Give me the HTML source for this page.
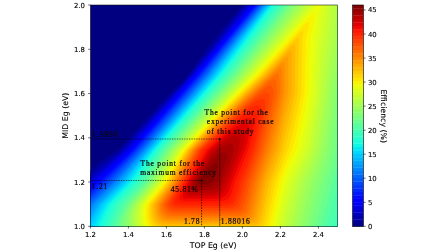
<!DOCTYPE html>
<html><head><meta charset="utf-8"><title>Efficiency map</title>
<style>html,body{margin:0;padding:0;background:#fff}body{width:448px;height:252px;overflow:hidden}svg{display:block}</style></head>
<body>
<svg width="448" height="252" viewBox="0 0 448 252">
<defs><clipPath id="hc"><rect x="90.4" y="5.0" width="247.0" height="221.3"/></clipPath>
</defs>
<rect x="90.4" y="5.0" width="247.0" height="221.3" fill="#000080"/>
<g clip-path="url(#hc)"><path fill="#00009b" d="M338.4,228.2 89.4,228.2 88.5,227.3 88.5,226.3 88.7,186.2 89,176.2 89.4,170.1 90.4,170.1 98.4,163.4 106.4,157.4 110.4,154.8 116.4,151.4 118,150.2 147.9,117.2 161.4,102.5 169.4,94.2 178.4,85.5 185.4,78.3 191.5,71.1 192.7,69.1 194.2,67.1 198.6,60.1 206.7,49.1 222,30 243,5 243,4 248.4,3.4 261.4,3.2 338.4,3.1 339.3,4 339.3,227.3 338.4,228.2Z"/>
<path fill="#0000ad" d="M338.4,228.2 89.4,228.2 88.6,227.3 88.6,226.3 88.7,190.3 89,180.2 89.4,173.9 90.4,173.9 100.4,165.8 111.4,158 116.4,154 120.6,150.2 140.4,128.5 160.4,107.3 189.5,75.1 209.6,50.1 219.2,37 227.7,26 239.7,11 244.8,5 244.8,4 250.4,3.5 263.4,3.2 338.4,3.1 339.3,4 339.3,227.3 338.4,228.2Z"/>
<path fill="#0000bf" d="M338.4,228.1 89.4,228.1 88.6,227.3 88.6,226.3 88.8,192.3 89.4,177 90.4,177 96.4,172.2 104.4,166.1 111.4,160.2 122.5,150.2 152.4,117.8 190.7,75.1 216.6,43.1 228.4,28 241.6,11 246.6,5 246.6,4 255.4,3.4 266.4,3.2 338.4,3.1 339.3,4 339.2,227.3 338.4,228.1Z"/>
<path fill="#0000d1" d="M338.4,228.1 89.4,228.1 88.6,227.3 88.6,226.3 88.8,195.3 89.4,179.8 90.4,179.8 97.4,174.2 107.4,165.6 124.5,150.2 144.4,128.3 191.9,75.1 218,43.1 245,9 248.4,5 248.4,4 257.4,3.5 268.4,3.2 338.4,3.1 339.3,4 339.2,227.3 338.4,228.1Z"/>
<path fill="#0000e3" d="M338.4,228.1 160.4,228.2 89.4,228 88.7,227.3 88.9,198.3 89.4,182.3 90.4,182.3 112.4,163 126.4,150.2 132.4,143.5 159.4,113.3 193.1,75.1 219.5,43.1 246.8,9 250.2,5 250.2,4 259.4,3.5 271.4,3.3 338.4,3.2 339.2,4 339.2,227.3 338.4,228.1Z"/>
<path fill="#0000f6" d="M338.4,228 160.4,228.1 89.4,228 88.7,227.3 88.9,200.3 89.4,184.4 90.4,184.4 111.4,165.7 128.4,150.1 158.4,116.2 194.4,75.1 219.3,45.1 248.6,9 252.1,5 252.1,4 260.4,3.5 272.4,3.3 338.4,3.2 339.2,4 339.1,227.3 338.4,228Z"/>
<path fill="#0000ff" d="M338.4,228 160.4,228.1 89.4,227.9 88.8,227.3 88.9,203.3 89.4,186.6 90.4,186.6 115.4,164 130,150.2 195.6,75.1 253.7,5 253.7,4 260.4,3.6 272.4,3.3 338.4,3.2 339.2,4 339.1,227.3 338.4,228Z"/>
<path fill="#0008ff" d="M338.4,228 160.4,228.1 89.4,227.9 88.8,227.3 89,204.3 89.4,188.7 90.4,188.7 109.4,171.4 120.4,161.2 131.6,150.2 197,75.1 227.4,38 254.9,5 254.9,4 261.4,3.6 272.4,3.4 338.4,3.2 339.1,4 339.1,227.3 338.4,228Z"/>
<path fill="#0018ff" d="M338.4,227.9 160.4,228.1 89.4,227.8 88.9,227.3 88.9,226.3 89,204.3 89.4,190.8 90.4,190.8 110.4,172.4 121.4,161.9 133.1,150.2 198.3,75.1 229.4,37 256,5 256,4 262.4,3.6 273.4,3.4 338.4,3.3 339.1,4 339,227.3 338.4,227.9Z"/>
<path fill="#0028ff" d="M338.4,227.9 160.4,228.1 89.4,227.8 88.9,227.3 88.9,226.3 89.1,204.3 89.4,192.9 90.4,192.9 110.4,174.3 121.4,163.6 134.6,150.2 199.7,75.1 230.5,37 257,5 257,4 263.4,3.7 273.4,3.4 338.4,3.3 339.1,4 339,227.3 338.4,227.9Z"/>
<path fill="#0038ff" d="M338.4,227.9 160.4,228 89.4,227.7 89,227.3 89,226.3 89.1,204.3 89.4,195.1 90.4,195.1 109.4,177.3 121.4,165.4 136,150.2 201.1,75.1 231.7,37 258.1,5 258.1,4 273.4,3.5 338.4,3.3 339.1,4 339,227.3 338.4,227.9Z"/>
<path fill="#0048ff" d="M338.4,227.8 160.4,228 89.4,227.7 89,227.3 89,226.3 89.4,197.2 90.4,197.2 108.4,180.3 122.4,166.2 137.5,150.2 202.4,75.1 232.9,37 255.7,9 259.1,5 259.1,4 274.4,3.5 338.4,3.4 339,4 338.9,227.3 338.4,227.8Z"/>
<path fill="#0058ff" d="M338.4,227.8 160.4,228 89.4,227.7 89,227.3 89,226.3 89.4,199.3 90.4,199.3 109.4,181.6 122.4,168 139,150.2 203.8,75.1 234,37 256.7,9 260.2,5 260.2,4 278.4,3.5 338.4,3.4 339,4 338.9,227.3 338.4,227.8Z"/>
<path fill="#0064ff" d="M338.4,227.8 160.4,228 89.4,227.6 89.1,227.3 89.1,226.3 89.4,201.4 90.4,201.4 110.9,182.2 124.4,167.8 140.5,150.2 205.2,75.1 235.2,37 257.8,9 261.2,5 261.2,4 270.4,3.7 281.4,3.5 338.4,3.4 339,4 338.9,227.3 338.4,227.8Z"/>
<path fill="#0074ff" d="M338.4,227.7 160.4,227.9 89.4,227.6 89.1,227.3 89.1,226.3 89.4,203.6 90.4,203.6 113,182.2 141.9,150.2 206.5,75.1 244.3,27 258.8,9 262.3,5 262.3,4 272.4,3.7 284.4,3.5 338.4,3.4 339,4 338.8,227.3 338.4,227.7Z"/>
<path fill="#0088ff" d="M338.4,227.7 260.4,227.9 160.4,227.9 89.4,227.5 89.2,227.3 89.2,226.3 89.4,206.5 90.4,206.5 91.9,204.3 116,181.2 143.4,150.2 207.1,76.1 244,29 258.4,10.9 263.3,5 263.3,4 272.4,3.7 288.4,3.5 338.4,3.5 338.9,4 338.8,227.3 338.4,227.7Z"/>
<path fill="#0098ff" d="M338.4,227.7 260.4,227.9 160.4,227.9 89.4,227.5 89.2,227.3 89.2,226.3 89.4,209.9 90.4,209.9 94.2,204.3 118.1,181.2 209.4,75.1 238.1,38 261.1,9 264.5,5 264.5,4 273.4,3.7 291.4,3.6 338.4,3.5 338.9,4 338.8,227.3 338.4,227.7Z"/>
<path fill="#00a4ff" d="M338.4,227.6 260.4,227.9 160.4,227.9 89.4,227.4 89.3,226.3 89.4,213.6 90.4,213.6 96.5,204.3 119.4,182.1 146.2,150.2 210.9,75.1 239.4,38 262.2,9 265.7,5 265.7,4 273.4,3.8 291.4,3.6 338.4,3.5 338.9,4 338.7,227.3 338.4,227.6Z"/>
<path fill="#00b8ff" d="M338.4,227.6 260.4,227.9 160.4,227.9 89.4,227.4 89.4,217.6 90.4,217.6 98.8,204.3 121.4,182.2 147.7,150.2 212.5,75.1 241.4,37 263.4,9 266.9,5 266.9,4 292.4,3.6 338.4,3.5 338.9,4 338.7,227.3 338.4,227.6Z"/>
<path fill="#00c8ff" d="M338.4,227.6 260.4,227.8 160.4,227.8 89.4,227.3 89.4,222.1 90.4,222.1 95.5,213.3 101.1,204.3 123.5,182.2 135.3,167.2 149.1,150.2 214,75.1 228.2,56.1 242.7,37 264.6,9 268,5 268,4 293.4,3.6 338.4,3.6 338.8,4 338.7,227.3 338.4,227.6Z"/>
<path fill="#00d8ff" d="M338.4,227.5 258.4,227.8 146.4,227.8 90.9,227.3 90.9,226.3 96.2,216.3 103.3,204.3 125.6,182.2 137,167.2 150.5,150.2 215.5,75.1 244.1,37 265.8,9 269.2,5 269.2,4 298.4,3.6 338.4,3.6 338.8,4 338.6,227.3 338.4,227.5Z"/>
<path fill="#02e8f4" d="M338.4,227.5 259.4,227.8 148.4,227.8 93.9,227.3 93.9,226.3 99.3,215.3 105.6,204.3 127.7,182.2 138,168.2 151.9,150.2 217.1,75.1 231.5,56.1 249.2,32 266.9,9 270.4,5 270.4,4 304.4,3.6 338.4,3.6 338.8,4 338.6,227.3 338.4,227.5Z"/>
<path fill="#0ff8e7" d="M338.4,227.4 259.4,227.8 149.4,227.7 96.9,227.3 96.9,226.3 103.5,212.3 107.9,204.3 129.9,182.2 141.3,166.2 153.3,150.2 218.6,75.1 240,47.1 257.4,23 268.1,9 271.6,5 271.6,4 309.4,3.6 338.4,3.7 338.7,4 338.5,227.3 338.4,227.4Z"/>
<path fill="#1cffdb" d="M338.4,227.4 259.4,227.7 150.4,227.7 100,227.3 100,226.3 104.9,215.3 110.4,204.3 132.2,182.2 144.6,164.2 154.8,150.2 220.2,75.1 236.4,54.1 249.3,37 259.5,23 269.3,9 272.9,5 272.9,4 313.4,3.6 338.4,3.7 338.7,4 338.4,227.4Z"/>
<path fill="#29ffce" d="M338.4,227.4 259.4,227.7 151.4,227.7 103,227.3 103,226.3 107.8,215.3 113.1,204.3 134.5,182.2 145.2,166.2 156.5,150.2 222.3,75.1 255,32 271.6,9 275.1,5 275.1,4 315.4,3.6 338.4,3.7 338.7,4 338.4,227.4Z"/>
<path fill="#36ffc1" d="M338.4,227.3 259.4,227.7 152.4,227.7 106,227.3 106,226.3 110.7,215.3 115.8,204.3 136.8,182.2 147.2,166.2 158.3,150.2 224.4,75.1 261.5,26 274,9 277.5,5 277.5,4 315.4,3.7 338.4,3.7 338.7,4 338.4,227.3Z"/>
<path fill="#43ffb4" d="M338.4,227.3 260.4,227.7 173.4,227.7 109.1,227.3 109.1,226.3 111.5,220.3 118.6,204.3 139.1,182.2 149.2,166.2 160.1,150.2 226.6,75.1 252.4,41 276.4,9 279.9,5 279.9,4 318.4,3.7 338.4,3.8 338.6,4 338.4,227.3Z"/>
<path fill="#4dffaa" d="M331.4,227.3 260.4,227.7 174.4,227.7 112.1,227.3 112.1,226.3 113.1,223.3 117.7,212.3 121.3,204.3 141.3,182.2 151.2,166.2 161.9,150.2 228.7,75.1 254.7,41 278.8,9 282.3,5 282.3,4 318.4,3.7 338.4,3.8 338.6,4 338.4,208.4 337.4,208.4 332.3,226.3 332.3,227.3 331.4,227.3Z"/>
<path fill="#5aff9d" d="M325.4,227.3 260.4,227.6 175.4,227.6 115.2,227.3 115.2,226.3 115.6,224.3 116.9,220.3 124,204.3 143.6,182.2 153.2,166.2 163.7,150.2 230.9,75.1 257,41 281.2,9 284.7,5 284.7,4 318.4,3.7 338.4,3.8 338.6,4 338.4,186.7 337.4,186.7 331.7,207.3 326.1,226.3 326.1,227.3 325.4,227.3Z"/>
<path fill="#6aff8d" d="M319.4,227.3 259.4,227.6 173.4,227.6 118.2,227.3 118.3,225.3 118.6,223.3 120.2,218.3 121.9,214.3 125.5,207.3 126.8,204.3 145.9,182.2 154,168.2 165.5,150.2 233.1,75.1 259.3,41 283.6,9 287.1,5 287.1,4 318.4,3.8 338.4,3.8 338.6,4 338.4,164.9 337.4,164.9 334.6,176.2 323.4,214.9 320.4,226.3 320.4,227.3 319.4,227.3Z"/>
<path fill="#77ff80" d="M314.4,227.3 259.4,227.6 174.4,227.6 121.2,227.3 121.2,225.3 121.7,221.3 123.2,216.3 125.8,210.3 129.1,204.3 147.9,182.2 157.2,166.2 167.3,150.2 207,106.1 235.2,75.1 255.5,49.1 286,9 289.5,5 289.5,4 317.4,3.8 338.4,3.9 338.5,4 338.4,141 337.4,141 336.2,149.2 332.8,164.2 330.2,173.2 327,182.2 323.4,194.8 315.1,226.3 315.1,227.3 314.4,227.3Z"/>
<path fill="#83ff73" d="M309.4,227.3 259.4,227.6 176.4,227.6 124.3,227.3 124.1,223.3 124.7,219.3 125.8,215.3 127.8,210.3 130.8,204.3 149.5,182.2 154.5,174.2 162.1,161.2 169.1,150.2 205.4,110 237.4,75.1 265.7,39 288.4,9 291.9,5 291.9,4 317.4,3.8 338.4,3.9 338.4,111.1 337.4,111.1 332.9,144.2 332.1,149.2 331.3,152.2 329.4,159.5 327.4,166.2 321.5,182.2 315.9,204.3 309.8,226.3 309.8,227.3 309.4,227.3Z"/>
<path fill="#90ff66" d="M304.4,227.3 258.4,227.5 179.4,227.6 127.3,227.3 126.9,222.3 127.3,218.3 128.3,214.3 130.1,209.3 132.5,204.3 151.1,182.2 170.7,150.2 207.4,109.9 239.5,75.1 263.5,45.1 278.4,26 291.5,9 294.9,5 294.9,4 317.4,3.8 338.4,3.9 338.4,85 337.4,85 335.9,93.1 331.7,124.2 327.9,149.2 325.4,157.7 321.4,169.8 316.6,182.2 310.8,204.3 304.6,226.3 304.6,227.3 304.4,227.3Z"/>
<path fill="#9dff5a" d="M299.4,227.3 258.4,227.5 174.4,227.5 130,227.3 129.5,220.3 129.8,217.3 130.7,213.3 132,209.3 134.2,204.3 152.7,182.2 172.4,150.2 208.4,110.8 241.6,75.1 266.8,44.1 294.5,9 298,5 298,4 317.4,3.9 338.4,3.9 338.4,64.4 337.4,64.4 334,82.1 332.2,93.1 327.7,125.2 324,148.2 321,158.2 318.4,166.2 315.3,174.2 311.7,182.2 304.4,209.1 300,226.3 300,227.3 299.4,227.3Z"/>
<path fill="#aaff4d" d="M295.4,227.3 258.4,227.5 185.4,227.5 132.5,227.3 132,220.3 132,218.3 132.4,215.3 133,212.3 134.3,208.3 135.9,204.3 154.3,182.2 174,150.2 210.4,110.6 243.7,75.1 269.2,44.1 297.6,9 301,5 301,4 338.4,4 338.4,43.8 337.4,43.8 334.7,56.1 332.2,69.1 330.2,81.1 326.4,107.8 320.2,148.2 317.8,156.2 314.4,165.6 310.8,174.2 306.8,182.2 304.4,191.2 295.4,226.3 295.4,227.3Z"/>
<path fill="#b7ff40" d="M290.4,227.3 257.4,227.5 175.4,227.5 135,227.3 134.4,222.3 134.4,216.3 134.8,213.3 135.5,210.3 137.6,204.3 155.9,182.2 175.7,150.2 212.4,110.5 245.8,75.1 304,5 304,4 337.2,4 335.9,19 333.6,38 330.8,52.1 328.4,66.1 326.6,79.1 324.7,94.1 319.9,127.2 316.6,148.2 314.3,155.2 310.8,164.2 308.6,169.2 304.4,177.4 302.2,182.2 296.5,205.3 290.9,226.3 290.9,227.3 290.4,227.3Z"/>
<path fill="#c4ff33" d="M285.4,227.3 173.4,227.5 137.4,227.3 137.4,226.3 137,224.3 136.6,221.3 136.8,214.3 137.7,209.3 139.3,204.3 157.6,182.2 177.3,150.2 214.4,110.4 247.9,75.1 307.1,5 307.1,4 332.9,4 332.1,12 330.1,27 326.1,52.1 324.2,65.1 323,75.1 321.1,95.1 317.1,122.2 312.9,148.2 312,151.2 309.4,157.8 304.4,168 298,182.2 292.1,205.3 286.3,226.3 286.3,227.3 285.4,227.3Z"/>
<path fill="#d1ff26" d="M282.4,227.3 178.4,227.4 139.9,227.3 139.9,226.3 139.2,223.3 138.8,220.3 138.7,217.3 139,213.3 139.6,209.3 141,204.3 159.2,182.2 179,150.2 227.4,98.5 250,75.1 310.1,5 310.1,4 328.6,4 328.6,5 327,16 323.3,38 322.4,45.1 320.2,67.1 318,94.1 313.7,122.2 309.2,148.2 308.4,150.5 304.4,158.6 293.8,182.2 285.4,213.6 282.6,226.3 282.6,227.3 282.4,227.3Z"/>
<path fill="#deff19" d="M278.4,227.3 173.4,227.4 142.4,227.3 142.4,226.3 141.5,223.3 141,220.3 140.8,217.3 141,213.3 141.7,208.3 142.8,204.3 160.8,182.2 167.9,170.2 180.6,150.2 224.4,103.4 238.4,88.9 252.1,75.1 313.2,5 313.2,4 324.2,4 324.2,5 321.8,21 318.8,39 316.8,63.1 314.7,94.1 311.1,117.2 308.4,132.3 305.9,143.2 304.4,149.2 297.3,165.2 289.5,182.2 285.4,197.7 279.1,226.3 279.1,227.3 278.4,227.3Z"/>
<path fill="#ebff0c" d="M275.4,227.3 145,227.3 145,226.3 143.9,223.3 143.1,219.3 142.9,215.3 143.2,211.3 143.8,207.3 144.5,204.3 162.4,182.2 171.2,167.2 182.3,150.2 203.4,127.3 222.4,107.2 239.4,89.8 254.2,75.1 300.4,22.9 311.4,10.7 316.8,5 316.8,4 319.9,4 319.8,8 319,14 316.9,26 314.6,38 313,63.1 311.5,93.1 308.2,113.1 302.2,141.2 300.3,149.2 293.4,164.8 285.3,182.2 279.4,210.2 275.7,226.3 275.7,227.3 275.4,227.3Z"/>
<path fill="#f8f500" d="M271.4,227.3 147.6,227.3 147.6,226.3 146.6,224.3 145.9,222.3 145.1,218.3 144.9,213.3 145.4,208.3 146.2,204.3 164,182.2 172.6,167.2 183.5,150.2 204.4,127.7 223.4,107.8 240.4,90.6 256.3,75.1 287.4,40.2 307.4,18.3 310.4,15.3 312.4,13.6 313.4,12.9 314.4,13 314.7,14 314.7,15 314.4,18 312.7,27 310.3,38 309.4,59.1 308.2,93.1 306.1,104.1 300.8,130.2 296.6,148.2 292.7,157.2 285.4,173.1 282.1,182.2 275.6,212.3 273.3,222.3 272.1,226.3 272.1,227.3 271.4,227.3Z"/>
<path fill="#ffe600" d="M267.4,227.3 150.3,227.3 150.3,226.3 149.1,224.3 147.9,221.3 147.1,217.3 146.9,214.3 146.9,211.3 147.7,205.3 147.9,204.3 148.6,203.3 165.6,182.2 169.9,174.2 174,167.2 184.7,150.2 205.4,128.1 223.4,109.5 239.4,93.4 258.2,75.1 283.4,47.2 301.4,27.7 306.4,22.9 307.4,22.2 308.4,21.9 308.6,22 309,23 308.9,25 306.2,38 306.1,39 304.5,93.1 301.2,111.1 297.1,130.2 292.6,148.2 285.4,164.3 278.9,182.2 274.4,202.9 270.3,220.3 269.2,224.3 268.4,226.3 268.4,227.3 267.4,227.3Z"/>
<path fill="#ffd700" d="M264.4,227.3 153.3,227.3 153.3,226.3 151.8,224.3 150.6,222.3 149.9,220.3 149.2,217.3 148.9,214.3 148.8,211.3 149,208.3 149.6,204.3 167.1,182.2 175.9,166.2 185.9,150.2 206.4,128.5 224.4,110 241.4,93.1 260.1,75.1 293.4,38.9 299.4,32.8 301.4,31.1 302.4,30.6 303.2,31 303.3,32 302.4,39 301.2,93.1 300.3,98.1 297.7,111.1 295,123.2 292.4,134.2 289.4,145.2 288.2,149.2 285.4,155.4 275.7,182.2 271.5,201.3 267.7,217.3 266,223.3 265.1,225.3 264.4,226.3 264.4,227.3Z"/>
<path fill="#ffc800" d="M258.4,227.3 157.8,227.3 157.8,226.3 155.9,225.3 153.9,223.3 152.7,221.3 151.9,219.3 151.2,216.3 150.8,212.3 150.8,208.3 151.3,204.3 168.4,182.2 178.5,164.2 187.1,150.2 206.4,129.9 224.4,111.6 243.4,92.9 262,75.1 290.4,44.6 295.4,39.7 297.4,38.3 298.4,38.6 298.6,39 298.8,41 298.8,44.1 298,93.1 296.8,99.1 291.4,123.2 284.4,149.2 278.8,165.2 272.5,182.2 264.6,217.3 263.5,221.3 262.7,223.3 262.1,224.3 261.1,225.3 259.3,226.3 259.3,227.3 258.4,227.3Z"/>
<path fill="#ffb900" d="M252.4,225.3 241.4,225.6 174.4,225.6 165.4,225.5 161.4,225.1 158.8,224.3 157.2,223.3 155.4,221.3 153.8,218.3 153.1,215.3 152.7,212.3 152.7,208.3 153,204.3 169.8,182.2 180.4,163.2 188.3,150.2 206.4,131.3 222.4,115.1 243.4,94.5 263.9,75.1 289.4,48.1 292.4,45.4 293.4,44.7 294.4,44.4 294.9,45.1 295.2,46.1 295.3,49.1 294.7,93.1 291.5,108.1 288.6,120.2 285.4,132 281.4,149.2 275.7,165.2 269.4,182.2 266.4,195.1 262.4,214.3 261.1,219.3 259.7,222.3 258.4,223.7 256.4,224.7 252.4,225.3Z"/>
<path fill="#ffab00" d="M251.4,223.4 247.4,223.7 240.4,223.8 179.4,223.9 168.4,223.8 163,223.3 160.4,222.5 158.5,221.3 156.9,219.3 155.8,217.3 154.9,214.3 154.6,211.3 154.5,208.3 154.7,204.3 161.3,195.3 171.2,182.2 183.5,160.2 189.5,150.2 206.4,132.7 223.4,115.7 245.4,94.3 265.8,75.1 286.4,53.6 289.4,51 290.4,50.4 291.4,50.9 291.5,51.1 291.8,55.1 291.5,93.1 290.9,96.1 285.4,118.6 281.5,136.2 278.4,149.2 266.2,182.2 261.1,207.3 258.7,217.3 257.4,220.3 256.4,221.5 254.4,222.7 251.4,223.4Z"/>
<path fill="#ff9c00" d="M250.4,221.3 247.4,221.7 244.4,221.9 231.4,222 173.4,222 167.4,221.8 164.4,221.5 162.4,220.9 160.4,219.7 159.1,218.3 157.4,215.5 156.8,213.3 156.4,210.3 156.4,204.3 162.8,195.3 172.5,182.2 187.7,155.2 190.7,150.2 201.4,139.2 222.4,118.2 245.4,95.9 267.7,75.1 282.4,59.9 285.4,57.3 286.4,56.7 287.4,56.6 287.8,57.1 288.1,58.1 288.3,61.1 288.2,93.1 285.4,105.1 280.7,127.2 275.4,149.2 266.4,173.4 263.5,182.2 258.7,205.3 256.3,215.3 255.4,217.5 254.3,219.3 252.4,220.6 250.4,221.3Z"/>
<path fill="#ff8d00" d="M248.4,219.3 243.4,220 232.4,220.2 176.4,220.2 170.4,220.1 166.4,219.7 164.4,219.2 162.4,218.2 160.6,216.3 159.4,214.4 158.6,212.3 158.3,210.3 158.1,207.3 158.2,204.3 164.4,195.3 173.9,182.2 191.9,150.2 213.4,128.6 235.4,107.1 250.4,92.8 269.6,75.1 279.4,65.2 281.4,63.4 283.4,62.2 284.4,62.8 284.8,66.1 285,93.1 280.4,116.3 276.2,134.2 272.4,149.2 266.4,165.3 260.8,182.2 256.1,204.3 253.9,213.3 253.1,215.3 251.9,217.3 250.4,218.5 248.4,219.3Z"/>
<path fill="#ff7e00" d="M230.4,218.3 176.4,218.3 170.4,218.1 167.4,217.7 165.4,217.1 164,216.3 162.4,214.7 161.4,213.2 160.4,211.3 160.2,210.3 159.9,207.3 159.9,204.3 165.9,195.3 175.3,182.2 193.3,150.2 218.4,125.2 242.4,102 271.7,75.1 276.4,70.5 279.4,68 280.4,67.6 281.4,68 281.8,69.1 282.3,75.1 282.5,93.1 281.3,99.1 276.2,122.2 269.9,147.2 269.3,149.2 266.4,157.1 258.1,182.2 253.5,203.3 251.4,211.5 250.4,214 249.5,215.3 248.4,216.4 246.4,217.3 244.4,217.7 241.4,218 230.4,218.3Z"/>
<path fill="#ff6f00" d="M233.4,216.3 179.4,216.3 173.4,216.2 169.4,215.8 167.4,215.3 166.4,214.9 165.4,214.2 163.6,212.3 162,209.3 161.7,207.3 161.6,204.3 167.5,195.3 177.3,181.2 194.6,150.2 217.4,127.6 237.4,108.3 269.4,79.2 275.4,74.2 276.4,73.6 277.4,73.3 278.4,73.8 278.6,74.1 279.1,76.1 279.4,78.1 279.7,84.1 279.8,93.1 279.5,95.1 274.3,118.2 268.4,141.6 266.3,149.2 255.3,182.2 251.2,201.3 249.1,209.3 248.4,211.3 247.4,213 246,214.3 244.4,215.1 242.4,215.6 240.4,215.9 233.4,216.3Z"/>
<path fill="#ff6000" d="M231.4,214.3 181.4,214.4 175.4,214.3 171.4,213.9 168.4,213.1 167,212.3 166,211.3 164.6,209.3 163.6,207.3 163.3,204.3 169.1,195.3 178.6,181.2 182.7,174.2 196,150.2 227.4,119.4 257.4,92 265.4,84.9 269.4,81.6 272.4,79.7 273.4,79.3 274.4,79.2 275.4,80.1 276.1,82.1 276.5,85.1 276.8,89.1 276.8,94.1 275.4,101.1 271.4,118.5 263.7,149.2 258.5,165.2 252.6,182.2 248.8,199.3 247,206.3 246.3,208.3 245.2,210.3 244.4,211.3 242.4,212.8 240.4,213.5 238.4,213.8 231.4,214.3Z"/>
<path fill="#ff5200" d="M227.4,212.3 182.4,212.3 176.4,212.2 173.4,212 170.4,211.3 168.4,210.1 167.4,209.1 166.1,207.3 165.4,205.8 165.1,204.3 170,196.3 179.4,182.2 182.5,177.2 185.9,171.2 191.2,161.2 197.4,150.2 222.4,125.7 254.4,96.7 261.4,90.8 265.4,87.7 268.4,85.9 269.4,85.6 270.4,85.6 271.4,86 272.4,87.3 273.2,90.1 273.7,93.1 273.1,98.1 271.5,106.1 261.1,149.2 255.8,165.2 249.9,182.2 247.4,193.4 244.4,204.1 243.4,206.6 242.4,208.4 241.4,209.5 239.4,210.8 237.4,211.5 235.4,211.8 227.4,212.3Z"/>
<path fill="#ff4300" d="M234.4,209.5 229.4,210.1 222.4,210.2 185.4,210.3 176.4,210 172.4,209.4 170.4,208.4 169.4,207.6 168.4,206.4 167.2,204.3 167.5,203.3 168.5,201.3 170.9,197.3 181.4,181.2 186.9,172.2 190.8,165.2 194.2,158.2 198.7,150.2 216.4,133 251.4,101.5 257.4,96.6 261.4,93.9 264.4,92.5 266.4,92.4 267.4,92.7 268.4,93.5 269.2,95.1 269.5,98.1 269.1,102.1 268,108.1 264.1,126.2 258.8,148.2 253.5,164.2 247.2,182.2 243.4,196.6 241.3,203.3 240.3,205.3 238.9,207.3 237.4,208.4 234.4,209.5Z"/>
<path fill="#ff3400" d="M231.4,207.4 227.4,207.9 220.4,208.1 179.4,208 175.4,207.6 173.4,207 171.4,205.9 170,204.3 170,203.3 170.7,201.3 172.6,197.3 176.2,191.3 184.7,178.2 189.7,170.2 193.6,163.2 197.4,155.2 200.1,150.2 209.4,141.2 236.4,116.9 248.4,106.4 253.4,102.5 257.4,100 260.4,98.9 262.4,98.8 263.4,99.2 264.3,100.1 265,102.1 265.2,105.1 264.8,109.1 263.5,117.2 261.8,125.2 256,149.2 247.4,174.2 244.1,182.2 240.6,195.3 238.6,201.3 237.4,203.6 236,205.3 234.4,206.4 231.4,207.4Z"/>
<path fill="#ff2500" d="M227.4,205.4 222.4,205.7 215.4,205.9 180.4,205.8 176.4,205.3 174.4,204.6 173.8,204.3 173.4,203.8 173.2,203.3 173.1,202.3 173.5,200.3 174.2,198.3 176.7,193.3 178.4,190.3 188.8,174.2 193.7,166.2 198.5,157.2 201.6,150.2 233.4,121.6 245.4,111.4 249.4,108.4 253.4,106.1 256.4,105.2 258.4,105.2 259.4,105.7 260,106.1 260.6,107.1 261,108.1 261.3,111.1 261.1,114.1 260.4,119.2 258.8,127.2 256.4,137.5 253.4,149.2 247.4,166.7 241,182.2 237.7,194.3 235.9,199.3 234.4,201.9 233.4,203.1 232.4,203.8 230.4,204.7 227.4,205.4Z"/>
<path fill="#ff1a00" d="M222.4,203.3 207.4,203.6 187.4,203.6 181.4,203.4 179.4,203.2 177.4,202.5 176.4,201.3 176.2,200.3 176.6,198.3 177.3,196.3 180.7,189.2 184.2,183.2 191.6,172.2 196.5,164.2 200.5,157.2 203.8,150.2 229.4,127.2 240.4,118 245.4,114.4 248.4,112.8 251.4,111.7 253.4,111.5 254.4,111.7 255.4,112.2 256.3,113.1 257,115.1 257.3,118.2 256.9,123.2 254.9,133.2 251.4,147.1 247.4,159.2 237.9,182.2 234.7,193.3 232.7,198.3 231.3,200.3 229.4,201.8 228.3,202.3 226.4,202.8 222.4,203.3Z"/>
<path fill="#f60b00" d="M204.4,201.3 187.4,201.2 182.4,200.8 180.7,200.3 179.6,199.3 179.3,198.3 179.4,197.3 179.9,195.3 181.1,192.3 185.3,184.2 198.9,163.2 203,156.2 206,150.2 228.4,130.2 234.4,125.2 238.4,122.2 242.4,119.7 244.4,118.8 246.4,118.1 249.4,117.8 250.4,118 251.4,118.4 252.4,119.3 253.2,121.2 253.4,123.2 253.3,126.2 252.8,130.2 251.8,135.2 248.5,148.2 247.4,151.6 244.4,159.2 234.8,182.2 232.1,191.3 231,194.3 229.9,196.3 228.4,198.2 227.4,199 225.4,199.9 223.4,200.4 217.4,201.1 204.4,201.3Z"/>
<path fill="#e40000" d="M218.4,198.3 214.4,198.6 207.4,198.8 187.4,198.6 184.8,198.3 183.4,197.6 183,197.3 182.5,196.3 182.4,195.3 182.8,193.3 183.9,190.3 188,182.2 201.3,162.2 205,156.2 208.3,150.2 225.4,135 230.4,130.9 234.4,128 238.4,125.6 241.4,124.3 244.4,123.7 246.4,123.9 247.2,124.2 248.4,125.2 249.3,127.2 249.5,129.2 249.4,132.2 248.5,137.2 247.4,142.1 245.7,148.2 244.4,151.6 231.7,182.2 229.8,188.2 228.3,192.3 226.4,195 224.4,196.6 221.4,197.8 218.4,198.3Z"/>
<path fill="#cd0000" d="M202.4,196.3 190.4,196.1 188.4,195.9 186.4,195.1 185.7,194.3 185.4,193.3 185.7,191.3 187.2,187.2 189.7,182.2 200.7,166.2 210.7,150.2 224.4,138.3 228.4,135.2 232.4,132.6 235.4,131 238.4,130 241.4,129.8 242.4,130.1 243.4,130.6 244.4,131.7 245,133.2 245.2,136.2 244.4,140.9 242.5,148.2 238.5,158.2 228.5,182.2 227.1,186.2 225.2,190.3 223.7,192.3 222.4,193.5 220.4,194.6 218.4,195.3 215.4,195.8 212.4,196 202.4,196.3Z"/>
<path fill="#bb0000" d="M210.4,193.3 198.4,193.6 194.4,193.5 191.4,193.3 190.4,193 189.1,192.3 188.5,191.3 188.6,189.2 189.5,186.2 191.3,182.2 202.7,166.2 213.3,150.2 222.4,142.8 226.4,139.9 229.4,137.9 232.4,136.6 234.4,136 236.4,136 237.4,136.2 238.4,136.6 239.1,137.2 239.7,138.2 239.9,140.2 239.6,144.2 238.5,149.2 234.8,159.2 228.4,174.9 223.4,185.8 221.4,189.1 220.3,190.3 219,191.3 217.4,192 215.4,192.6 210.4,193.3Z"/>
<path fill="#a80000" d="M210.4,190.3 202.4,190.8 197.4,190.7 194.4,190.5 193.4,190.3 192.4,189.8 191.9,189.2 191.5,188.2 191.7,186.2 192.7,183.2 193.8,181.2 212.4,155.9 216.9,150.2 222.4,146.5 226.4,144.4 229.4,143.6 231.4,143.8 232.4,144.4 233,145.2 233.5,146.2 233.8,148.2 233.5,151.2 232.5,155.2 231.2,159.2 228.4,166.6 226.4,171.1 222.2,180.2 220.1,184.2 218.7,186.2 217.4,187.6 215.4,188.9 213.4,189.7 210.4,190.3Z"/>
<path fill="#960000" d="M208.4,187.3 205.4,187.6 201.4,187.8 198.4,187.7 196.4,187.3 195.4,186.8 194.9,186.2 194.5,185.2 194.6,184.2 195,182.2 197.1,179.2 208.4,164.9 212.4,160 215.4,156.9 218.4,154.3 221.4,152.7 223.4,152.3 224.4,152.4 225.4,152.8 226.4,153.9 226.9,155.2 226.9,157.2 226.4,160.2 223.4,168.2 218.8,179.2 216.4,182.9 214.4,185 212.1,186.2 208.4,187.3Z"/>
<path fill="#840000" d="M204.4,184.3 200.4,184.3 199.4,184.1 198.4,183.6 198.1,183.2 197.7,182.2 198.5,180.2 205.4,172.2 210.4,167.1 212.4,165.4 214.4,164.1 215.4,163.7 216.4,163.6 217.3,164.2 217.6,165.2 217.5,168.2 216.4,172.8 214.3,179.2 213.7,180.2 212.6,181.2 210.4,182.7 207.4,183.8 204.4,184.3Z"/></g>
<g stroke="#000" stroke-width="0.8" fill="none" stroke-dasharray="0.8 0.9" stroke-opacity="0.9">
<path d="M90.4,180.5H201.6"/><path d="M201.6,180.5V226.3" stroke-dasharray="1.5 1.2"/>
<path d="M90.4,139.0H219.7"/>
</g>
<path d="M219.7,139.0V226.3" stroke="#000" stroke-width="0.7" stroke-opacity="0.8" stroke-dasharray="2.2 0.3" fill="none"/>
<circle cx="201.6" cy="180.5" r="1.0" fill="#000"/><circle cx="219.7" cy="139.0" r="1.0" fill="#000"/>
<rect x="90.4" y="5.0" width="247.0" height="221.3" fill="none" stroke="#111" stroke-width="0.55"/>
<path d="M90.4,226.3v2.2M128.4,226.3v2.2M166.4,226.3v2.2M204.4,226.3v2.2M242.4,226.3v2.2M280.4,226.3v2.2M318.4,226.3v2.2M90.4,226.3h-2.2M90.4,182.0h-2.2M90.4,137.8h-2.2M90.4,93.5h-2.2M90.4,49.3h-2.2M90.4,5.0h-2.2M363.4,226.3h2.2M363.4,202.3h2.2M363.4,178.2h2.2M363.4,154.2h2.2M363.4,130.2h2.2M363.4,106.1h2.2M363.4,82.1h2.2M363.4,58.1h2.2M363.4,34.0h2.2M363.4,10.0h2.2" stroke="#000" stroke-width="0.6" fill="none"/>
<rect x="352.6" y="222.84" width="10.8" height="3.76" fill="#000089"/><rect x="352.6" y="219.38" width="10.8" height="3.76" fill="#00009b"/><rect x="352.6" y="215.93" width="10.8" height="3.76" fill="#0000ad"/><rect x="352.6" y="212.47" width="10.8" height="3.76" fill="#0000bf"/><rect x="352.6" y="209.01" width="10.8" height="3.76" fill="#0000d1"/><rect x="352.6" y="205.55" width="10.8" height="3.76" fill="#0000e3"/><rect x="352.6" y="202.10" width="10.8" height="3.76" fill="#0000f6"/><rect x="352.6" y="198.64" width="10.8" height="3.76" fill="#0000ff"/><rect x="352.6" y="195.18" width="10.8" height="3.76" fill="#0008ff"/><rect x="352.6" y="191.72" width="10.8" height="3.76" fill="#0018ff"/><rect x="352.6" y="188.26" width="10.8" height="3.76" fill="#0028ff"/><rect x="352.6" y="184.81" width="10.8" height="3.76" fill="#0038ff"/><rect x="352.6" y="181.35" width="10.8" height="3.76" fill="#0048ff"/><rect x="352.6" y="177.89" width="10.8" height="3.76" fill="#0058ff"/><rect x="352.6" y="174.43" width="10.8" height="3.76" fill="#0068ff"/><rect x="352.6" y="170.98" width="10.8" height="3.76" fill="#0078ff"/><rect x="352.6" y="167.52" width="10.8" height="3.76" fill="#0088ff"/><rect x="352.6" y="164.06" width="10.8" height="3.76" fill="#0098ff"/><rect x="352.6" y="160.60" width="10.8" height="3.76" fill="#00a8ff"/><rect x="352.6" y="157.14" width="10.8" height="3.76" fill="#00b8ff"/><rect x="352.6" y="153.69" width="10.8" height="3.76" fill="#00c8ff"/><rect x="352.6" y="150.23" width="10.8" height="3.76" fill="#00d8ff"/><rect x="352.6" y="146.77" width="10.8" height="3.76" fill="#02e8f4"/><rect x="352.6" y="143.31" width="10.8" height="3.76" fill="#0ff8e7"/><rect x="352.6" y="139.85" width="10.8" height="3.76" fill="#1cffdb"/><rect x="352.6" y="136.40" width="10.8" height="3.76" fill="#29ffce"/><rect x="352.6" y="132.94" width="10.8" height="3.76" fill="#36ffc1"/><rect x="352.6" y="129.48" width="10.8" height="3.76" fill="#43ffb4"/><rect x="352.6" y="126.02" width="10.8" height="3.76" fill="#50ffa7"/><rect x="352.6" y="122.57" width="10.8" height="3.76" fill="#5dff9a"/><rect x="352.6" y="119.11" width="10.8" height="3.76" fill="#6aff8d"/><rect x="352.6" y="115.65" width="10.8" height="3.76" fill="#77ff80"/><rect x="352.6" y="112.19" width="10.8" height="3.76" fill="#83ff73"/><rect x="352.6" y="108.73" width="10.8" height="3.76" fill="#90ff66"/><rect x="352.6" y="105.28" width="10.8" height="3.76" fill="#9dff5a"/><rect x="352.6" y="101.82" width="10.8" height="3.76" fill="#aaff4d"/><rect x="352.6" y="98.36" width="10.8" height="3.76" fill="#b7ff40"/><rect x="352.6" y="94.90" width="10.8" height="3.76" fill="#c4ff33"/><rect x="352.6" y="91.45" width="10.8" height="3.76" fill="#d1ff26"/><rect x="352.6" y="87.99" width="10.8" height="3.76" fill="#deff19"/><rect x="352.6" y="84.53" width="10.8" height="3.76" fill="#ebff0c"/><rect x="352.6" y="81.07" width="10.8" height="3.76" fill="#f8f500"/><rect x="352.6" y="77.61" width="10.8" height="3.76" fill="#ffe600"/><rect x="352.6" y="74.16" width="10.8" height="3.76" fill="#ffd700"/><rect x="352.6" y="70.70" width="10.8" height="3.76" fill="#ffc800"/><rect x="352.6" y="67.24" width="10.8" height="3.76" fill="#ffb900"/><rect x="352.6" y="63.78" width="10.8" height="3.76" fill="#ffab00"/><rect x="352.6" y="60.32" width="10.8" height="3.76" fill="#ff9c00"/><rect x="352.6" y="56.87" width="10.8" height="3.76" fill="#ff8d00"/><rect x="352.6" y="53.41" width="10.8" height="3.76" fill="#ff7e00"/><rect x="352.6" y="49.95" width="10.8" height="3.76" fill="#ff6f00"/><rect x="352.6" y="46.49" width="10.8" height="3.76" fill="#ff6000"/><rect x="352.6" y="43.04" width="10.8" height="3.76" fill="#ff5200"/><rect x="352.6" y="39.58" width="10.8" height="3.76" fill="#ff4300"/><rect x="352.6" y="36.12" width="10.8" height="3.76" fill="#ff3400"/><rect x="352.6" y="32.66" width="10.8" height="3.76" fill="#ff2500"/><rect x="352.6" y="29.20" width="10.8" height="3.76" fill="#ff1600"/><rect x="352.6" y="25.75" width="10.8" height="3.76" fill="#f10800"/><rect x="352.6" y="22.29" width="10.8" height="3.76" fill="#df0000"/><rect x="352.6" y="18.83" width="10.8" height="3.76" fill="#cd0000"/><rect x="352.6" y="15.37" width="10.8" height="3.76" fill="#bb0000"/><rect x="352.6" y="11.92" width="10.8" height="3.76" fill="#a80000"/><rect x="352.6" y="8.46" width="10.8" height="3.76" fill="#960000"/><rect x="352.6" y="5.00" width="10.8" height="3.76" fill="#840000"/>
<rect x="352.6" y="5.0" width="10.8" height="221.3" fill="none" stroke="#000" stroke-width="0.6"/>
<g font-family="'DejaVu Sans','Liberation Sans',sans-serif" font-size="6.9" fill="#000" stroke="#000" stroke-width="0.12">
<text x="90.4" y="237.2" text-anchor="middle">1.2</text>
<text x="128.4" y="237.2" text-anchor="middle">1.4</text>
<text x="166.4" y="237.2" text-anchor="middle">1.6</text>
<text x="204.4" y="237.2" text-anchor="middle">1.8</text>
<text x="242.4" y="237.2" text-anchor="middle">2.0</text>
<text x="280.4" y="237.2" text-anchor="middle">2.2</text>
<text x="318.4" y="237.2" text-anchor="middle">2.4</text>
<text x="85.0" y="228.8" text-anchor="end">1.0</text>
<text x="85.0" y="184.5" text-anchor="end">1.2</text>
<text x="85.0" y="140.2" text-anchor="end">1.4</text>
<text x="85.0" y="96.0" text-anchor="end">1.6</text>
<text x="85.0" y="51.7" text-anchor="end">1.8</text>
<text x="85.0" y="7.5" text-anchor="end">2.0</text>
<text x="367.9" y="228.8">0</text>
<text x="367.9" y="204.7">5</text>
<text x="367.9" y="180.7">10</text>
<text x="367.9" y="156.6">15</text>
<text x="367.9" y="132.6">20</text>
<text x="367.9" y="108.6">25</text>
<text x="367.9" y="84.5">30</text>
<text x="367.9" y="60.5">35</text>
<text x="367.9" y="36.5">40</text>
<text x="367.9" y="12.4">45</text>
<text x="213.2" y="248" text-anchor="middle" font-size="7.8">TOP Eg (eV)</text>
<text transform="translate(67.6,115.7) rotate(-90)" text-anchor="middle" font-size="7.8">MID Eg (eV)</text>
<text transform="translate(380.8,116.2) rotate(90)" text-anchor="middle" font-size="7.8">Efficiency (%)</text>
</g>
<g font-family="'Liberation Serif','DejaVu Serif',serif" font-size="7.5" fill="#0a0a0a" stroke="#0a0a0a" stroke-width="0.22" letter-spacing="0.8">
<text x="204.5" y="115.0">The point for the</text>
<text x="206.8" y="124.2">experimental case</text>
<text x="206.8" y="133.5">of this study</text>
<text x="140.6" y="166.1">The point for the</text>
<text x="140.3" y="175.4">maximum efficiency</text>
<text x="170.7" y="191.8">45.81%</text>
<text x="91.7" y="137.0" letter-spacing="1.05">1.3996</text>
<text x="91.7" y="188.7">1.21</text>
<text x="183.9" y="223.9">1.78</text>
<text x="220.7" y="223.9">1.88016</text>
</g>
</svg>
</body></html>
